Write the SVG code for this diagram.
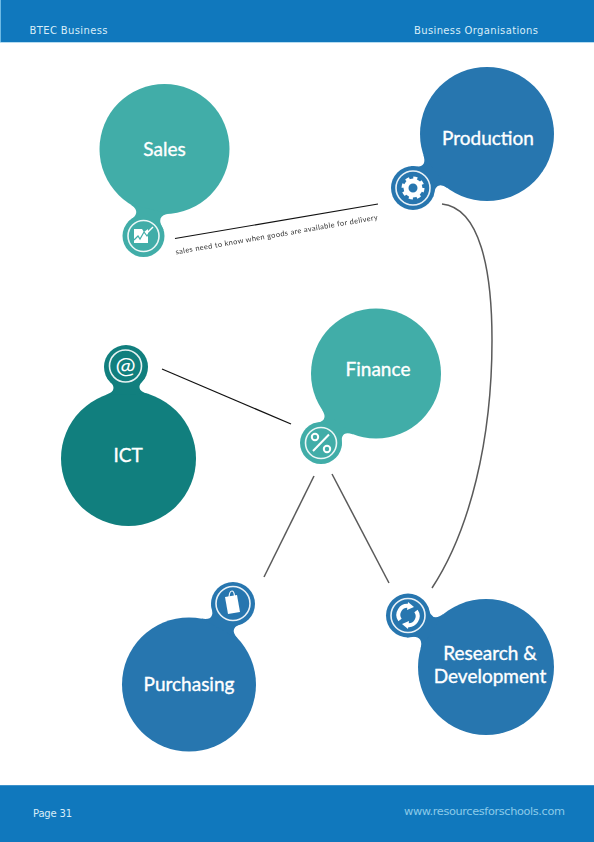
<svg xmlns="http://www.w3.org/2000/svg" width="594" height="842" viewBox="0 0 594 842">
<style>
.teal{fill:#41ADA8}
.dark{fill:#117F7E}
.blue{fill:#2776AF}
.ring{fill:none;stroke:#fff;stroke-width:1.6;opacity:.9}
.lbl{font-family:"Lato","Liberation Sans",sans-serif;font-weight:400;font-size:19px;fill:#fff;stroke:#fff;stroke-width:.35;text-anchor:middle}
.ico{fill:#fff}
.ln{fill:none;stroke:#111;stroke-width:1.2}
.gr{fill:none;stroke:#5a5a5a;stroke-width:1.5}
.hd{font-family:"DejaVu Sans","Liberation Sans",sans-serif;font-size:10px;fill:#d8edf8}
</style>
<defs>
<filter id="soft" x="-5%" y="-50%" width="110%" height="200%"><feGaussianBlur stdDeviation="0.2"/></filter>
</defs>
<rect width="594" height="842" fill="#fff"/>
<g id="header">
<rect x="0" y="0" width="594" height="42.500" fill="#6db9e4"/>
<rect x="1" y="0" width="593" height="42" fill="#1078BD"/>
<text class="hd" x="29.500" y="34" textLength="78">BTEC Business</text>
<text class="hd" x="414" y="34" textLength="124">Business Organisations</text>
</g>
<g id="footer">
<rect x="0" y="785" width="594" height="57" fill="#1078BD"/>
<rect x="0" y="785" width="594" height="1" fill="#3d92cb"/>
<text class="hd" x="33" y="817" textLength="39">Page 31</text>
<text class="hd" x="404" y="815" textLength="161" style="fill:#8ccbe9;font-size:11.300px">www.resourcesforschools.com</text>
</g>
<g id="connectors">
<path class="ln" d="M175 238.500L378 204"/>
<path class="ln" d="M162 369L291 424"/>
<path class="gr" d="M314 476L264 577"/>
<path class="gr" d="M332 474L389 583"/>
<path class="gr" d="M442 204C480 208 492 270 492 340C492 440 470 530 432 588"/>
</g>
<g filter="url(#soft)">
<text x="176" y="254.500" transform="rotate(-9.800 176 254.500)" font-family="Lato,'Liberation Sans',sans-serif" font-size="7.400" fill="#333" textLength="205">sales need to know when goods  are available for delivery</text>
</g>
<g id="sales">
<circle class="teal" cx="164.500" cy="149" r="65"/>
<circle class="teal" cx="143.500" cy="236" r="21"/>
<path class="teal" d="M163.600 230.100Q154.600 215.300 169.500 213.800L130.500 204.400Q143 212.500 128.300 221.500Z"/>
<circle class="ring" cx="143.500" cy="236" r="15.500"/>
<path class="ico" d="M134 229H142L144 232L148 229V243H134Z"/>
<path d="M134 240L138 236L140 239L144 232L147 236L153 227" fill="none" stroke="#41ADA8" stroke-width="1.200"/>
<path d="M147 233L153 227" fill="none" stroke="#fff" stroke-width="1.500"/>
<text class="lbl" x="164.500" y="155.500">Sales</text>
</g>
<g id="production">
<circle class="blue" cx="487" cy="134" r="67"/>
<circle class="blue" cx="413" cy="188" r="22"/>
<path class="blue" d="M433.100 196.900Q435.300 179.100 447.700 188.300L423.300 154.800Q428.300 169.500 410.600 166.100Z"/>
<circle class="ring" cx="413" cy="188" r="17"/>
<circle cx="413" cy="188" r="7" fill="none" stroke="#fff" stroke-width="5"/>
<circle cx="413" cy="188" r="10" fill="none" stroke="#fff" stroke-width="3" stroke-dasharray="4 3.850"/>
<text class="lbl" x="488" y="145">Production</text>
</g>
<g id="finance">
<circle class="teal" cx="376" cy="373.500" r="65"/>
<circle class="teal" cx="321" cy="443" r="21"/>
<path class="teal" d="M341.800 446.100Q339.500 429.200 353.300 434.500L321.900 409.500Q330.100 421.800 313.300 423.500Z"/>
<circle class="ring" cx="321" cy="443" r="15.500"/>
<path d="M329 434.500L313 451" fill="none" stroke="#fff" stroke-width="2"/>
<circle cx="315" cy="437" r="3.200" fill="none" stroke="#fff" stroke-width="2"/>
<circle cx="327" cy="449" r="3.200" fill="none" stroke="#fff" stroke-width="2"/>
<text class="lbl" x="378" y="376">Finance</text>
</g>
<g id="ict">
<circle class="dark" cx="128.500" cy="458.500" r="67.500"/>
<circle class="dark" cx="126" cy="367" r="22"/>
<path class="dark" d="M107.200 378.500Q120.600 390.200 105.900 394.800L147.600 393.800Q132.600 389.800 145.300 377.500Z"/>
<circle class="ring" cx="125.500" cy="366" r="16"/>
<text x="125.500" y="374" font-family="Lato,'Liberation Sans',sans-serif" font-size="24" fill="#fff" text-anchor="middle">@</text>
<text class="lbl" x="128" y="462">ICT</text>
</g>
<g id="purchasing">
<circle class="blue" cx="189" cy="684.500" r="67"/>
<circle class="blue" cx="233" cy="604" r="22"/>
<path class="blue" d="M244.400 622.800Q227.100 627.400 237.700 638.500L201.400 618.600Q216.500 621.600 211 604.500Z"/>
<circle class="ring" cx="233" cy="603.500" r="17"/>
<path class="ico" d="M225 597L237 595L240 612L228 614Z"/>
<path d="M229 597Q229.500 591 232 591Q234 591 234.500 596" fill="none" stroke="#fff" stroke-width="1.200"/>
<text class="lbl" x="189" y="691">Purchasing</text>
</g>
<g id="research">
<circle class="blue" cx="486" cy="667" r="68"/>
<circle class="blue" cx="408" cy="615.500" r="22"/>
<path class="blue" d="M406.700 637.500Q424.500 633.600 420.500 648.900L443.600 613.800Q431.100 623.600 427.700 605.700Z"/>
<circle class="ring" cx="408" cy="615.500" r="17"/>
<path d="M400 620A9 9 0 0 1 409 606" fill="none" stroke="#fff" stroke-width="4"/>
<path d="M416 611A9 9 0 0 1 407 625" fill="none" stroke="#fff" stroke-width="4"/>
<path class="ico" d="M408 602L414 607L407 610Z"/>
<path class="ico" d="M408 629L402 624L409 621Z"/>
<text class="lbl" x="490" y="660">Research &amp;</text>
<text class="lbl" x="490" y="682.500">Development</text>
</g>
</svg>
